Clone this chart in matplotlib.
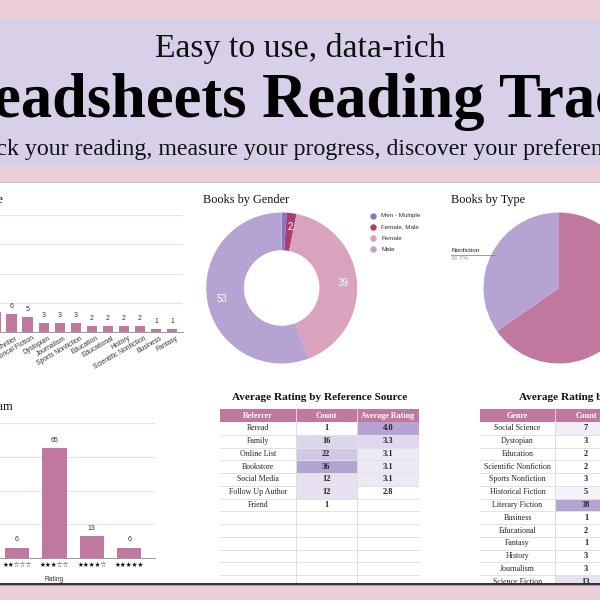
import matplotlib
matplotlib.use("Agg")
import matplotlib.pyplot as plt
from matplotlib.patches import Rectangle
from matplotlib.transforms import ScaledTranslation

W, H = 600, 600
PINK = "#C0789E"
LAV = "#B5A4D3"
SERIF = "Liberation Serif"
SANS = "Liberation Sans"

genre_names = ["Social Science", "Thriller", "Historical Fiction", "Dystopian", "Journalism",
               "Sports Nonfiction", "Education", "Educational", "History",
               "Scientific Nonfiction", "Business", "Fantasy"]
genre_counts = [7, 6, 5, 3, 3, 3, 2, 2, 2, 2, 1, 1]

gender_names = ["Men - Multiple", "Female, Male", "Female", "Male"]
gender_counts = [1, 2, 39, 53]
gender_colors = ["#8577C5", "#A8406F", "#D9A3BD", LAV]

type_names = ["Fiction", "Nonfiction"]
type_shares = [65.3, 34.7]

rating_labels = ["★★☆☆☆", "★★★☆☆", "★★★★☆", "★★★★★"]
rating_counts = [6, 65, 13, 6]

ref_names = ["Reread", "Family", "Online List", "Bookstore", "Social Media", "Follow Up Author", "Friend"]
ref_counts = [1, 16, 22, 36, 12, 12, 1]
ref_ratings = [4.0, 3.3, 3.1, 3.1, 3.1, 2.8, None]

tbl_genres = ["Social Science", "Dystopian", "Education", "Scientific Nonfiction", "Sports Nonfiction",
              "Historical Fiction", "Literary Fiction", "Business", "Educational", "Fantasy",
              "History", "Journalism", "Science Fiction"]
tbl_counts = [7, 3, 2, 2, 3, 5, 38, 1, 2, 1, 3, 3, 13]

fig = plt.figure(figsize=(6, 6), dpi=100, facecolor="white")


def px_axes(x0, y0, x1, y1, **kw):
    return fig.add_axes([x0 / W, 1 - y1 / H, (x1 - x0) / W, (y1 - y0) / H], **kw)


bg = px_axes(0, 0, W, H, zorder=0)
bg.set_xlim(0, W)
bg.set_ylim(H, 0)
bg.axis("off")
bg.add_patch(Rectangle((0, 0), W, 183, color="#EACFDA", lw=0))
bg.add_patch(Rectangle((0, 20), W, 145, color="#D8D0E8", lw=0))
bg.add_patch(Rectangle((0, 181.5), W, 1.5, color="#CDB7C2", lw=0))
bg.add_patch(Rectangle((0, 583), W, 17, color="#EACFDA", lw=0))
bg.add_patch(Rectangle((0, 583), W, 1.5, color="#3A3238", lw=0, zorder=5))
bg.add_patch(Rectangle((0, 584.5), W, 1.5, color="#A89AA2", lw=0, zorder=5))

bg.text(300, 48, "Easy to use, data-rich", family=SERIF, fontsize=24.3, ha="center", va="center", color="#111111")
bg.text(305, 102, "Spreadsheets Reading Tracker", family=SERIF, fontsize=45, weight="bold",
        ha="center", va="center", color="black")
bg.text(299, 150, "Track your reading, measure your progress, discover your preferences",
        family=SERIF, fontsize=17.2, ha="center", va="center", color="#111111")

bg.text(3, 200, "Books by Genre", family=SERIF, fontsize=8.8, va="center", ha="right", color="#111111")
bg.text(203, 200, "Books by Gender", family=SERIF, fontsize=8.8, va="center", color="#111111")
bg.text(451, 200, "Books by Type", family=SERIF, fontsize=8.8, va="center", color="#111111")
bg.text(13, 407, "Rating Histogram", family=SERIF, fontsize=8.8, va="center", ha="right", color="#111111")

# --- genre bars
ax = px_axes(0, 215, 183, 332, zorder=2)
ax.patch.set_alpha(0)
step = 16.03
ax.set_xlim(4.3 / step, (183 + 4.3) / step)
ax.set_ylim(0, 40)
xs = list(range(len(genre_counts)))
ax.bar(xs, genre_counts, width=0.66, color=PINK, zorder=3)
for i, v in zip(xs[1:], genre_counts[1:]):
    ax.annotate(str(v), (i, v), xytext=(0, 3.2), textcoords="offset points", ha="center",
                va="bottom", fontsize=5, family=SANS, color="#333333")
ax.set_yticks([10, 20, 30, 40])
ax.set_yticklabels([])
ax.grid(axis="y", color="#E4E4E4", lw=0.9)
ax.set_axisbelow(True)
ax.set_xticks(xs[1:])
ax.set_xticklabels(genre_names[1:], rotation=30, ha="right", rotation_mode="anchor",
                   fontsize=4.9, family=SANS, color="#333333")
ax.tick_params(length=0, pad=2)
for s in ["top", "right", "left"]:
    ax.spines[s].set_visible(False)
ax.spines["bottom"].set_color("#999999")
ax.spines["bottom"].set_linewidth(0.7)
shift = ScaledTranslation(4 / 100, 0, fig.dpi_scale_trans)
for lab in ax.get_xticklabels():
    lab.set_transform(lab.get_transform() + shift)

# --- gender donut
r = 75.5
ax = px_axes(281.7 - r, 288 - r, 281.7 + r, 288 + r, zorder=2)
ax.pie(gender_counts, colors=gender_colors, startangle=90, counterclock=False,
       radius=1, wedgeprops=dict(width=0.5, lw=0))
ax.set_xlim(-1, 1)
ax.set_ylim(-1, 1)
over = px_axes(0, 0, W, H, zorder=4)
over.set_xlim(0, W)
over.set_ylim(H, 0)
over.axis("off")
over.text(290, 227, "2", color="white", fontsize=7, family=SANS, ha="center", va="center")
over.text(343, 283, "39", color="white", fontsize=7, family=SANS, ha="center", va="center")
over.text(221.5, 299, "53", color="white", fontsize=7, family=SANS, ha="center", va="center")
for k, (name, col) in enumerate(zip(gender_names, gender_colors)):
    y = 216 + k * 11.1
    over.plot([373], [y], "o", ms=4.6, color=col, mew=0)
    over.text(381, y, name, fontsize=4.5, family=SANS, va="center", color="#333333")

# --- type pie
ax = px_axes(559 - r, 288 - r, 559 + r, 288 + r, zorder=2)
ax.pie(type_shares, colors=[PINK, LAV], startangle=90, counterclock=False, radius=1, wedgeprops=dict(lw=0))
ax.set_xlim(-1, 1)
ax.set_ylim(-1, 1)
over.plot([451, 496], [255, 255], color="#8A8A8A", lw=0.6)
over.text(451, 251, type_names[1], fontsize=4.6, family=SANS, va="center", color="#222222")
over.text(451, 259, f"{type_shares[1]}%", fontsize=4.6, family=SANS, va="center", color="#A0A0A0")

# --- rating histogram
ax = px_axes(0, 423, 155, 558, zorder=2)
ax.patch.set_alpha(0)
step = 37.4
ax.set_xlim(-17 / step, (155 - 17) / step)
ax.set_ylim(0, 80)
xs = list(range(len(rating_counts)))
ax.bar(xs, rating_counts, width=24.3 / step, color=PINK, zorder=3)
for i, v in zip(xs, rating_counts):
    ax.annotate(str(v), (i, v), xytext=(0, 3.2), textcoords="offset points", ha="center",
                va="bottom", fontsize=5, family=SANS, color="#333333")
ax.set_yticks([20, 40, 60, 80])
ax.set_yticklabels([])
ax.grid(axis="y", color="#E4E4E4", lw=0.9)
ax.set_axisbelow(True)
ax.set_xticks(xs)
ax.set_xticklabels(rating_labels, fontsize=4.7, family="DejaVu Sans", color="#111111")
ax.tick_params(length=0, pad=2.5)
for s in ["top", "right", "left"]:
    ax.spines[s].set_visible(False)
ax.spines["bottom"].set_color("#999999")
ax.spines["bottom"].set_linewidth(0.7)
over.text(54.5, 579.5, "Rating", fontsize=4.8, family=SANS, ha="center", va="center", color="#333333")


# --- tables
def shade(v, vmax, vmin=0):
    """lerp white -> lavender according to value"""
    t = (v - vmin) / (vmax - vmin)
    t = max(0.0, min(1.0, t))
    c0, c1 = (1, 1, 1), (0xB5 / 255, 0xA3 / 255, 0xD3 / 255)
    return tuple(a + (b - a) * t for a, b in zip(c0, c1))


def table(ax, edges, headers, rows, fills, top=409, hdr=13, rh=12.77, bottom=583):
    ax.add_patch(Rectangle((edges[0], top), edges[-1] - edges[0], hdr, color=PINK, lw=0))
    for j, h in enumerate(headers):
        ax.text((edges[j] + edges[j + 1]) / 2, top + hdr / 2, h, color="white", fontsize=5.8,
                family=SERIF, weight="bold", ha="center", va="center")
    y = top + hdr
    i = 0
    while y < bottom:
        ax.plot([edges[0], edges[-1]], [y + rh, y + rh], color="#E2E2E2", lw=0.7, zorder=1)
        if i < len(rows):
            for j, val in enumerate(rows[i]):
                if fills[i][j] is not None:
                    ax.add_patch(Rectangle((edges[j], y), edges[j + 1] - edges[j], rh,
                                           color=fills[i][j], lw=0, zorder=0.5))
                ax.text((edges[j] + edges[j + 1]) / 2, y + rh / 2, val, fontsize=5.7 if j == 0 else 6,
                        family=SERIF, weight="normal" if j == 0 else "bold",
                        ha="center", va="center", color="#222222", zorder=2)
        y += rh
        i += 1
    for e in edges[1:-1]:
        ax.plot([e, e], [top, bottom], color="#DDDDDD", lw=0.7, zorder=1.5)


tb = px_axes(0, 0, W, 583, zorder=3)
tb.set_xlim(0, W)
tb.set_ylim(583, 0)
tb.axis("off")
tb.text(320, 398, "Average Rating by Reference Source", family=SERIF, weight="bold", fontsize=8.1,
        ha="center", va="center", color="#111111")
rows1 = [[n, str(c), "" if a is None else f"{a:.1f}"] for n, c, a in zip(ref_names, ref_counts, ref_ratings)]
fills1 = [[None,
           shade(c, 36) if c > 1 else None,
           None if (a is None or a < 3) else shade(a, 4.0, 2.8)] for c, a in zip(ref_counts, ref_ratings)]
table(tb, [220, 295.5, 357, 419], ["Referrer", "Count", "Average Rating"], rows1, fills1)

tb.text(580, 398, "Average Rating by Genre", family=SERIF, weight="bold", fontsize=8.1,
        ha="center", va="center", color="#111111")
rows2 = [[n, str(c)] for n, c in zip(tbl_genres, tbl_counts)]
fills2 = [[None, shade(c, 38) if c > 3 else None] for c in tbl_counts]
table(tb, [480, 555, 617], ["Genre", "Count"], rows2, fills2)

fig.savefig("out.png", dpi=100)
